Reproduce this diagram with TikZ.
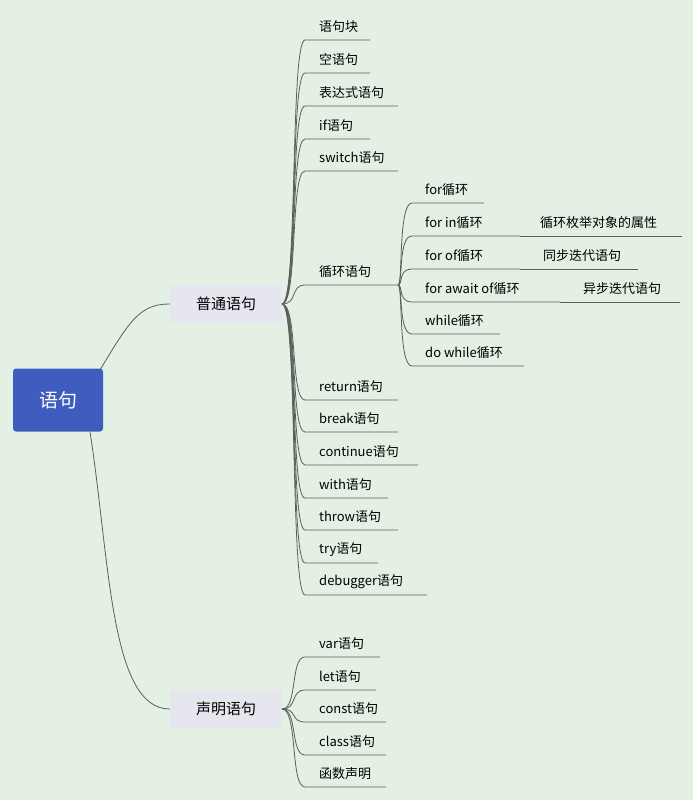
\documentclass[tikz,border=0pt]{standalone}
\usepackage{fontspec}
\setmainfont{Noto Sans CJK SC}
\usetikzlibrary{positioning}
\definecolor{bgGreen}{HTML}{E5F0E5}
\definecolor{rootBlue}{HTML}{3F5DBE}
\definecolor{topicGray}{HTML}{E6E6EE}
\definecolor{lineGray}{HTML}{5A5F5A}
\tikzset{%
  % Specifications for style of nodes:
      root/.style = {rectangle, rounded corners=3pt, fill=rootBlue,
                     minimum width=90pt, minimum height=63pt,
                     text=white, font=\fontsize{19}{22}\selectfont},
     topic/.style = {rectangle, rounded corners=2pt, fill=topicGray,
                     minimum width=112pt, minimum height=38pt,
                     font=\fontsize{15}{18}\selectfont},
      item/.style = {anchor=west, inner sep=0pt, font=\fontsize{13}{16}\selectfont},
      wire/.style = {draw=lineGray, line width=0.8pt},
}
\begin{document}
\begin{tikzpicture}[x=1pt, y=-1pt]
  \fill[bgGreen] (0,0) rectangle (693,800);
  % Root and main topics
  \node (stmt)  [root]  at (58,400)  {语句};
  \node (plain) [topic] at (226,304) {普通语句};
  \node (decl)  [topic] at (226,709) {声明语句};
  \draw[wire] (100,370) .. controls (130,320) and (140,304) .. (plain.west);
  \draw[wire] (90,432) .. controls (110,560) and (110,709) .. (decl.west);
  % Children of 普通语句: name / line end / line y / text
  \coordinate (plainOut) at (282,304);
  \foreach \nm/\xe/\y/\txt in {blk/370/40/语句块, empty/370/73/空语句,
      expr/398/106/表达式语句, if/370/139/if语句, switch/398/171/switch语句,
      loop/398/285/循环语句, return/398/400/return语句, break/398/432/break语句,
      cont/418/465/continue语句, with/388/498/with语句, throw/398/530/throw语句,
      try/378/563/try语句, dbg/427/595/debugger语句} {
    \coordinate (\nm-s) at (305,\y);
    \node (\nm) [item] at (319,\y-13) {\txt};
    \draw[wire] (plainOut) .. controls (298,304) and (290,\y) .. (\nm-s) -- (\xe,\y);
  }
  % Children of 循环语句
  \coordinate (loopOut) at (398,285);
  \foreach \nm/\xe/\y/\txt in {for/484/203/for循环, forin/520/236/for in循环,
      forof/520/269/for of循环, await/560/302/for await of循环,
      while/500/334/while循环, dowhile/524/366/do while循环} {
    \node (\nm) [item] at (425,\y-13) {\txt};
    \draw[wire] (loopOut) .. controls (403,285) and (398,\y) .. (412,\y) -- (\xe,\y);
  }
  \node (forinNote) [item] at (540,223) {循环枚举对象的属性};
  \node (forofNote) [item] at (543,256) {同步迭代语句};
  \node (awaitNote) [item] at (583,289) {异步迭代语句};
  \draw[wire] (520,236) -- (682,236);
  \draw[wire] (520,269) -- (638,269);
  \draw[wire] (560,302) -- (680,302);
  % Children of 声明语句
  \coordinate (declOut) at (282,709);
  \foreach \nm/\xe/\y/\txt in {var/380/657/var语句, let/376/690/let语句,
      const/386/722/const语句, class/386/755/class语句, func/386/787/函数声明} {
    \node (\nm) [item] at (319,\y-13) {\txt};
    \draw[wire] (declOut) .. controls (298,709) and (290,\y) .. (305,\y) -- (\xe,\y);
  }
\end{tikzpicture}
\end{document}
